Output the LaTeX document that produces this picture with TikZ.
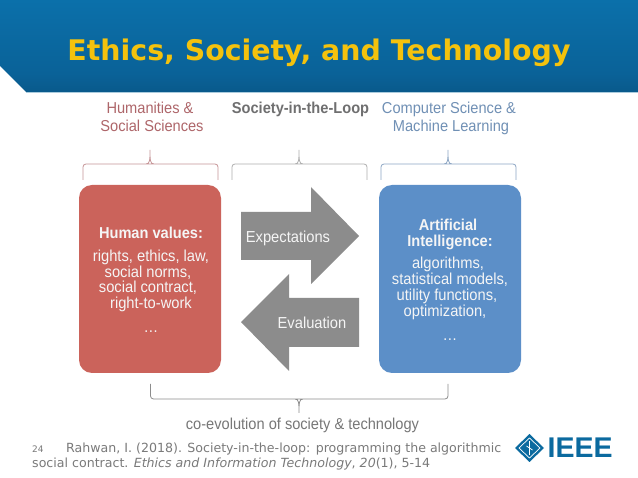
\documentclass[tikz,border=0pt]{standalone}
\usepackage{fontspec}
\setmainfont{Liberation Sans}
\newfontfamily\dejavu{DejaVu Sans}
\definecolor{hdrred}{HTML}{AE666A}
\definecolor{hdrgray}{HTML}{6F6F70}
\definecolor{hdrblue}{HTML}{7090B5}
\definecolor{boxred}{HTML}{CB635B}
\definecolor{boxblue}{HTML}{5C8FC8}
\definecolor{arrowgray}{HTML}{8C8C8C}
\definecolor{titlegold}{HTML}{F4C20D}
\definecolor{ieeeblue}{HTML}{0B6A9F}
\definecolor{foot}{HTML}{7A7A7A}
\definecolor{bantop}{HTML}{0B70AA}
\definecolor{banmid}{HTML}{0A6298}
\definecolor{banlow}{HTML}{084C78}
\definecolor{banbot}{HTML}{06304E}
\pgfdeclareverticalshading{bannershade}{100bp}{
  color(0bp)=(banbot);
  color(10bp)=(banlow);
  color(35bp)=(banmid);
  color(75bp)=(bantop);
  color(100bp)=(bantop)}
\tikzset{
  txt/.style={anchor=base,inner sep=0pt,xscale=.925,font=\fontsize{15.9}{18}\selectfont,text=white!96!black},
  txtb/.style={txt,font=\bfseries\fontsize{15.8}{18}\selectfont},
  hdr/.style={anchor=base,inner sep=0pt,xscale=.925,font=\fontsize{15.8}{18}\selectfont},
  panel/.style={draw=none,rounded corners=13pt},
  bigarrow/.style={fill=arrowgray,draw=none},
  bracepath/.style={line width=0.8pt,rounded corners=3pt},
  foottext/.style={anchor=base west,inner sep=0pt,text=foot,font=\dejavu\fontsize{12.6}{15}\selectfont}
}
\begin{document}
\begin{tikzpicture}[x=1pt,y=-1pt]
\useasboundingbox (0,0) rectangle (638,478);
\fill[white] (0,0) rectangle (638,478);
% banner
\begin{scope}
\clip (0,0) -- (638,0) -- (638,92) -- (26,92) -- (0,66) -- cycle;
\shade[shading=bannershade] (0,0) rectangle (638,92);
\end{scope}
\draw[line width=1pt,color=ieeeblue!35] (26,93) -- (638,93);
\node[anchor=base,inner sep=0pt,text=titlegold,font=\dejavu\bfseries\fontsize{28.4}{30}\selectfont] (title) at (319,61) {Ethics, Society, and Technology};
% headers
\node[hdr,text=hdrred] (h1a) at (150,114) {Humanities \&};
\node[hdr,text=hdrred] (h1b) at (152,132) {Social Sciences};
\node[hdr,text=hdrgray,font=\bfseries\fontsize{15.8}{18}\selectfont] (h2) at (300.5,114) {Society-in-the-Loop};
\node[hdr,text=hdrblue] (h3a) at (449,114) {Computer Science \&};
\node[hdr,text=hdrblue] (h3b) at (451,132) {Machine Learning};
% braces
\draw[bracepath,color=hdrred!70] (83,180) -- (83,164) -- (150,164) (150,150) .. controls (150,160) and (150,164) .. (146,164) (150,150) .. controls (150,160) and (150,164) .. (154,164) (150,164) -- (218,164) -- (218,180);
\draw[bracepath,color=arrowgray!70] (232,180) -- (232,164) -- (299,164) (299,150) .. controls (299,160) and (299,164) .. (295,164) (299,150) .. controls (299,160) and (299,164) .. (303,164) (299,164) -- (367,164) -- (367,180);
\draw[bracepath,color=hdrblue!80] (381,180) -- (381,164) -- (448,164) (448,150) .. controls (448,160) and (448,164) .. (444,164) (448,150) .. controls (448,160) and (448,164) .. (452,164) (448,164) -- (516,164) -- (516,180);
\draw[bracepath,color=arrowgray] (150.5,384) -- (150.5,399) -- (299,399) (299,413) .. controls (299,403) and (299,399) .. (295,399) (299,413) .. controls (299,403) and (299,399) .. (303,399) (299,399) -- (448,399) -- (448,384);
% panels
\fill[panel,boxred] (79,185) rectangle (221,373);
\fill[panel,boxblue] (379,185) rectangle (521,373);
% arrows
\fill[bigarrow] (241,212) -- (311,212) -- (311,187) -- (359,236) -- (311,284) -- (311,260) -- (241,260) -- cycle;
\fill[bigarrow] (359,298) -- (289,298) -- (289,274) -- (241,322) -- (289,371) -- (289,347) -- (359,347) -- cycle;
\node[txt] (exp) at (288,242.5) {Expectations};
\node[txt] (eval) at (312,328.5) {Evaluation};
% left panel text
\node[txtb] (hv) at (151,238.5) {Human values:};
\node[txt] (l1) at (151,261.5) {rights, ethics, law,};
\node[txt] (l2) at (148,277.5) {social norms,};
\node[txt] (l3) at (148,292.5) {social contract,};
\node[txt] (l4) at (151,308.5) {right-to-work};
\node[txt] (l5) at (151,333) {…};
% right panel text
\node[txtb] (ai1) at (448,230.5) {Artificial};
\node[txtb] (ai2) at (450,246.5) {Intelligence:};
\node[txt] (r1) at (448,268.5) {algorithms,};
\node[txt] (r2) at (450,284.5) {statistical models,};
\node[txt] (r3) at (447,300.5) {utility functions,};
\node[txt] (r4) at (445,316.5) {optimization,};
\node[txt] (r5) at (450,341) {…};
% bottom label
\node[hdr,text=arrowgray!85!black] (coev) at (302.5,430) {co-evolution of society \& technology};
% footer
\node[foottext,font=\dejavu\fontsize{9}{10}\selectfont] (pg) at (32,453) {24};
\node[foottext] (f1) at (66,453) {Rahwan, I. (2018). Society-in-the-loop: programming the algorithmic};
\node[foottext] (f2) at (32,468) {social contract. \textit{Ethics and Information Technology}, \textit{20}(1), 5-14};
% logo
\fill[ieeeblue] (529.5,434) -- (544,448) -- (529.5,462) -- (515,448) -- cycle;
\draw[white,line width=0.7pt] (529.5,438) -- (540,448) -- (529.5,458) -- (519,448) -- cycle;
\draw[white,line width=0.8pt] (529.5,441) -- (529.5,455);
\draw[white,line width=0.7pt] (526.5,446) -- (532.5,450);
\node[anchor=base west,inner sep=0pt,text=ieeeblue,font=\bfseries\fontsize{28.5}{30}\selectfont] (ieee) at (547.5,458) {IEEE};
\end{tikzpicture}
\end{document}
